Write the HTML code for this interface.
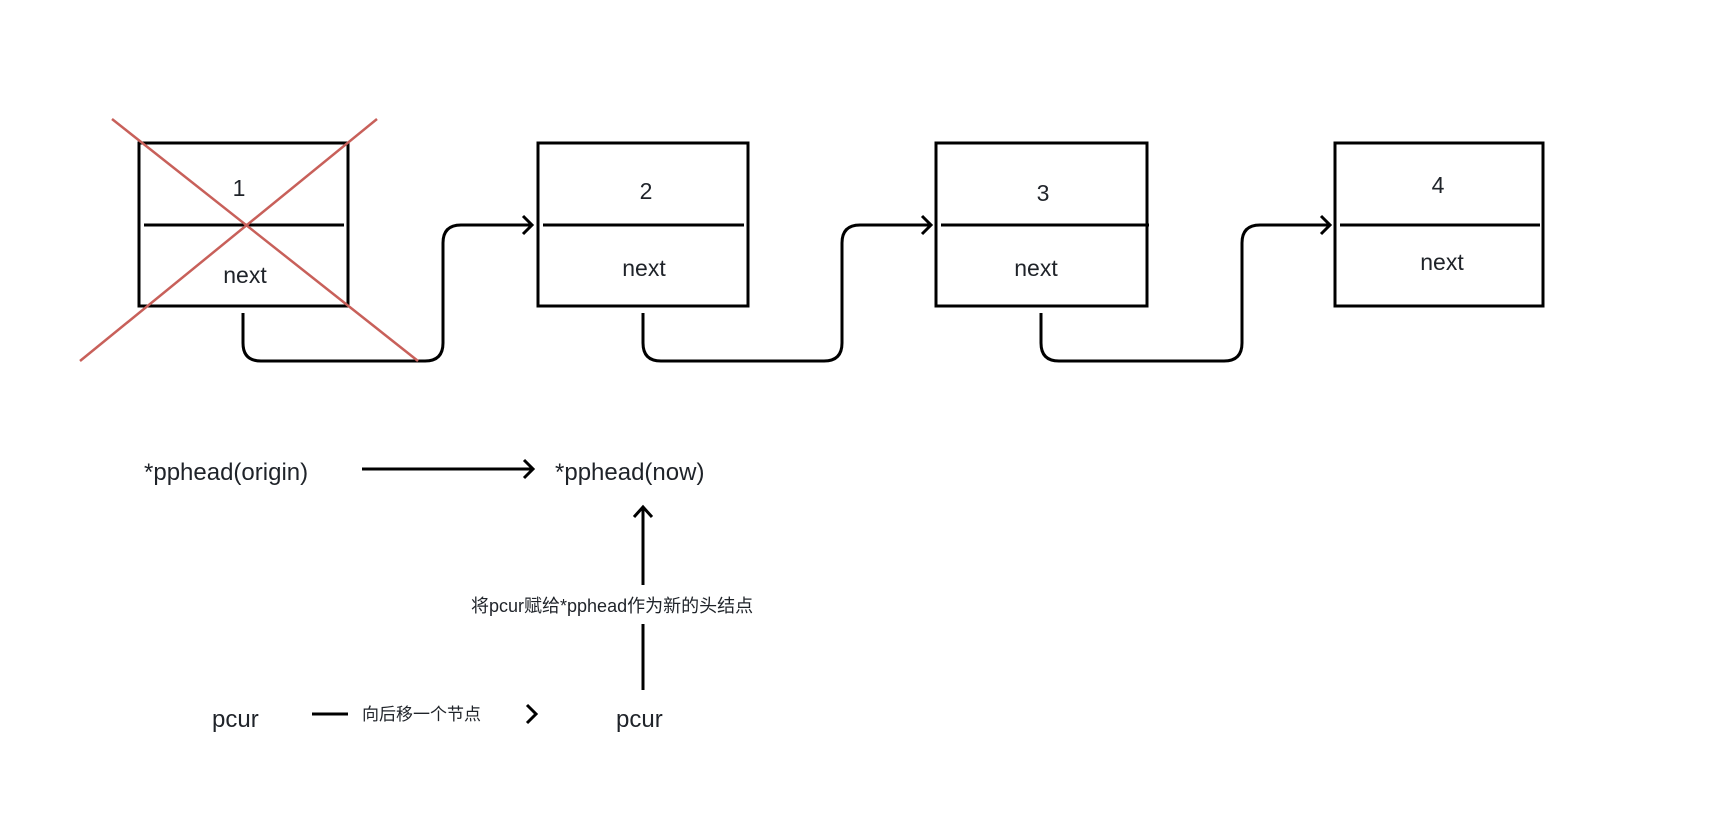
<!DOCTYPE html>
<html><head><meta charset="utf-8"><style>
html,body{margin:0;padding:0;background:#fff;}
svg{display:block;}
text{font-family:"Liberation Sans","Noto Sans CJK SC",sans-serif;fill:#1f2329;}
</style></head><body>
<svg width="1731" height="831" viewBox="0 0 1731 831" xmlns="http://www.w3.org/2000/svg">
<g fill="none" stroke="#000" stroke-width="3">
<rect x="139" y="143" width="209" height="163"/>
<rect x="538" y="143" width="210" height="163"/>
<rect x="936" y="143" width="211" height="163"/>
<rect x="1335" y="143" width="208" height="163"/>
<line x1="144" y1="225" x2="344" y2="225"/>
<line x1="543" y1="225" x2="744" y2="225"/>
<line x1="941" y1="225" x2="1149" y2="225"/>
<line x1="1340" y1="225" x2="1540" y2="225"/>
<path d="M243 313 V343 Q243 361 261 361 H425 Q443 361 443 343 V243 Q443 225 461 225 H532"/>
<path d="M523 216 L532 225 L523 234"/>
<path d="M643 313 V343 Q643 361 661 361 H824 Q842 361 842 343 V243 Q842 225 860 225 H931"/>
<path d="M922 216 L931 225 L922 234"/>
<path d="M1041 313 V343 Q1041 361 1059 361 H1224 Q1242 361 1242 343 V243 Q1242 225 1260 225 H1330"/>
<path d="M1321 216 L1330 225 L1321 234"/>
<line x1="362" y1="469" x2="533" y2="469"/>
<path d="M524 460 L533 469 L524 478"/>
<line x1="643" y1="690" x2="643" y2="624"/>
<line x1="643" y1="585" x2="643" y2="508"/>
<path d="M634 517 L643 507 L652 517"/>
<line x1="312" y1="714" x2="348" y2="714"/>
<path d="M527 705 L536 714 L527 723"/>
</g>
<g stroke="#c8605a" stroke-width="2.5">
<line x1="112" y1="119" x2="418" y2="361"/>
<line x1="377" y1="119" x2="80" y2="361"/>
</g>
<g font-size="23" text-anchor="middle">
<text x="239" y="196">1</text>
<text x="245" y="283">next</text>
<text x="646" y="199">2</text>
<text x="644" y="276">next</text>
<text x="1043" y="201">3</text>
<text x="1036" y="276">next</text>
<text x="1438" y="193">4</text>
<text x="1442" y="270">next</text>
</g>
<g font-size="24">
<text x="144" y="480">*pphead(origin)</text>
<text x="555" y="480">*pphead(now)</text>
<text x="212" y="727">pcur</text>
<text x="616" y="727">pcur</text>
</g>
<text x="471" y="612" font-size="18">将pcur赋给*pphead作为新的头结点</text>
<text x="362" y="720" font-size="17">向后移一个节点</text>
</svg>
</body></html>
